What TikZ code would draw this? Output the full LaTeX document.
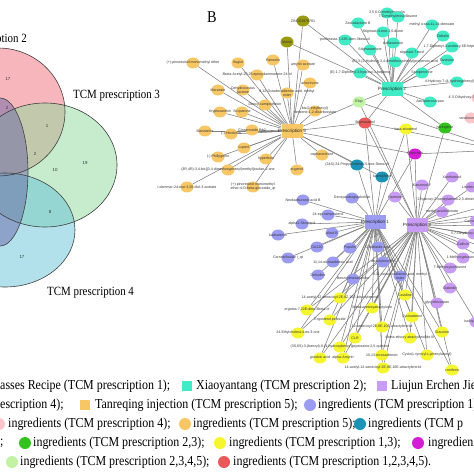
\documentclass[tikz,border=0pt]{standalone}
\usepackage{graphicx}
\usepackage{fontspec}
\setmainfont{Liberation Serif}
\setsansfont{Liberation Sans}
\usetikzlibrary{shapes.geometric,backgrounds}

\definecolor{cyanI}{HTML}{40EBC6}
\definecolor{oranI}{HTML}{F8C765}
\definecolor{blueI}{HTML}{9B9BF2}
\definecolor{lavI}{HTML}{C79CF2}
\definecolor{pinkI}{HTML}{FAC6CA}
\definecolor{tealI}{HTML}{1A93B5}
\definecolor{greenI}{HTML}{33C21E}
\definecolor{yellI}{HTML}{F6F62E}
\definecolor{magI}{HTML}{D41DD4}
\definecolor{lgreenI}{HTML}{C2F2A4}
\definecolor{redI}{HTML}{EA5A5A}
\definecolor{oliveI}{HTML}{9A9A10}
\definecolor{vpink}{HTML}{F06E78}
\definecolor{vgreen}{HTML}{8EDA9C}
\definecolor{vblue}{HTML}{66C2D8}
\definecolor{vviolet}{HTML}{6A68A8}

\newcommand{\squash}[1]{\scalebox{.87}[1]{#1}}

\tikzset{
  ing/.style={ellipse, minimum width=13bp, minimum height=11bp, inner sep=0pt, fill=#1},
  hub/.style={rectangle, minimum width=21bp, minimum height=14bp, inner sep=0pt, fill=#1},
  lbl/.style={font=\sffamily\fontsize{3.6}{4.1}\selectfont, inner sep=0pt, align=center, text=black!80},
  hlbl/.style={font=\sffamily\fontsize{4.6}{5}\selectfont, inner sep=0pt, text=black!85},
  link/.style={draw=black!50, line width=0.55bp},
  vline/.style={draw=black!75, line width=0.6bp},
  vnum/.style={font=\sffamily\fontsize{4.4}{5}\selectfont, inner sep=0pt, text=black!80},
  vset/.style={font=\fontsize{12.6}{14}\selectfont, inner sep=0pt},
  leg/.style={font=\fontsize{13.8}{15}\selectfont, inner sep=0pt, anchor=west},
  sqmark/.style={rectangle, minimum size=10bp, inner sep=0pt, fill=#1},
  dotmark/.style={circle, minimum size=12bp, inner sep=0pt, fill=#1}
}

\begin{document}
\begin{tikzpicture}[x=1bp,y=-1bp]
\useasboundingbox (0,0) rectangle (474,474);
\begin{pgfonlayer}{background}
\fill[white] (0,0) rectangle (474,474);
\end{pgfonlayer}

% Venn diagram (panel A, cut at the left)
\begin{scope}
\clip (0,0) rectangle (474,474);
\begin{scope}[fill opacity=.5]
\fill[vpink] (-2,112) ellipse [x radius=67, y radius=64];
\fill[vgreen] (45,165) ellipse [x radius=72, y radius=62];
\fill[vblue] (5,230) ellipse [x radius=70, y radius=57];
\fill[vviolet] (0,172) ellipse [x radius=28, y radius=74];
\end{scope}
\draw[vline] (-2,112) ellipse [x radius=67, y radius=64];
\draw[vline] (45,165) ellipse [x radius=72, y radius=62];
\draw[vline] (5,230) ellipse [x radius=70, y radius=57];
\draw[vline] (0,172) ellipse [x radius=28, y radius=74];
\end{scope}
\node[vset, anchor=east] (set2) at (27,40) {\squash{ption 2}};
\node[vset, anchor=west] (set3) at (73,96) {\squash{TCM prescription 3}};
\node[vset, anchor=west] (set4) at (47,293) {\squash{TCM prescription 4}};
\node[vnum] (n1) at (8,79) {17};
\node[vnum] (n2) at (7,108) {2};
\node[vnum] (n3) at (47,126) {1};
\node[vnum] (n4) at (35,154) {2};
\node[vnum] (n5) at (55,170) {10};
\node[vnum] (n6) at (85,163) {19};
\node[vnum] (n7) at (50,212) {8};
\node[vnum] (n8) at (22,257) {17};

\node[font=\fontsize{16.5}{18}\selectfont, inner sep=0pt] (panelB) at (212,17.5) {\squash{B}};

% hubs
\node[hub=blueI, label={[hlbl]center:Prescription 1}] (p1) at (375,222) {};
\node[hub=cyanI, label={[hlbl]center:Prescription 2}] (p2) at (392,89) {};
\node[hub=lavI, label={[hlbl]center:Prescription 3}] (p3) at (417,225) {};
\node[hub=pinkI] (p4) at (500,150) {};
\node[hub=oranI, label={[hlbl]center:Prescription 5}] (p5) at (292,131) {};

% ingredients of prescription 2
\node[ing=cyanI, label={[lbl]center:3,5,6-O-methylmosslin}] (c1) at (387,13) {};
\node[ing=cyanI, label={[lbl]center:7-O-methylmosloflavone}] (c2) at (398,17) {};
\node[ing=cyanI, label={[lbl]center:Zedoalactone B}] (c3) at (358,23) {};
\node[ing=cyanI, label={[lbl]center:Stigmast-4-ene-3,6-dione}] (c4) at (383,32) {};
\node[ing=cyanI, label={[lbl]center:methyl icosa-11,14-dienoate}] (c5) at (432,25) {};
\node[ing=cyanI, label={[lbl]center:poriferasta-7,22E-dien-3beta-ol}] (c6) at (345,40) {};
\node[ing=cyanI, label={[lbl]center:isoflavanone}] (c7) at (393,43) {};
\node[ing=cyanI, label={[lbl]center:Deltalin}] (c8) at (443,36) {};
\node[ing=cyanI, label={[lbl]center:1,7-Diphenyl-3-acetoxy-6E-heptene}] (c9) at (452,47) {};
\node[ing=cyanI, label={[lbl]center:Stigmasterone}] (c10) at (370,50) {};
\node[ing=cyanI, label={[lbl]center:stigmast-7-enol}] (c11) at (412,53) {};
\node[ing=cyanI, label={[lbl]center:Tanavine}] (c12) at (447,60) {};
\node[ing=cyanI, label={[lbl]center:(E)-1,7-Diphenyl-3-hydroxy-1-heptene}] (c13) at (360,73) {};
\node[ing=cyanI, label={[lbl]center:Sempervirine}] (c14) at (422,73) {};
\node[ing=cyanI, label={[lbl]center:4-Hydroxy-7-(4-hydroxyphenyl)-1-phenyl}] (c15) at (457,82) {};
\node[ing=cyanI, label={[lbl]center:Astrapterocarpan}] (c16) at (430,102) {};
\node[ing=cyanI, label={[lbl]center:(E)-3-(2-Hydroxy-3,4-dimethoxyphenyl)propenoic acid}] (c17) at (395,62) {};

% ingredients of prescription 5
\node[ing=oranI, label={[lbl]center:Sugiol}] (f1) at (238,63) {};
\node[ing=oranI, label={[lbl]center:Paneolin}] (f2) at (273,60) {};
\node[ing=oranI, label={[lbl]center:amyrin acetate}] (f3) at (303,65) {};
\node[ing=oranI, label={[lbl]center:3beta-Acetyl-20,25-epoxydammarane-24-ol}] (f4) at (257,75) {};
\node[ing=oranI, label={[lbl]center:arborinone}] (f5) at (310,83) {};
\node[ing=oranI, label={[lbl]center:Dehydrocostus\\lactone}] (f6) at (243,90) {};
\node[ing=oranI, label={[lbl]center:9,12-Octadecadienoic acid, methyl\\ester}] (f7) at (287,93) {};
\node[ing=oranI, label={[lbl]center:Deoxy-camptothecin}] (f8) at (265,105) {};
\node[ing=oranI, label={[lbl]center:Scoparone}] (f9) at (242,112) {};
\node[ing=oranI, label={[lbl]center:bis(2-ethylhexyl)\\benzene-1,2-dicarboxylate}] (f10) at (315,111) {};
\node[ing=oranI, label={[lbl]center:Ginsenoside Rh2}] (f11) at (252,130) {};
\node[ing=oranI, label={[lbl]center:(-)-Hinokinin}] (f12) at (231,134) {};
\node[ing=oranI, label={[lbl]center:Lupeol}] (f13) at (244,148) {};
\node[ing=oranI, label={[lbl]center:hyperforin}] (f14) at (266,159) {};
\node[ing=oranI, label={[lbl]center:cepharanthine}] (f15) at (322,155) {};
\node[ing=oranI, label={[lbl]center:(+)-pinoresinol monomethyl ether}] (f16) at (193,63) {};
\node[ing=oranI, label={[lbl]center:Meranzin}] (f17) at (218,90) {};
\node[ing=oranI, label={[lbl]center:Kryptoxanthin}] (f18) at (220,112) {};
\node[ing=oranI, label={[lbl]center:Mandarine}] (f19) at (205,131) {};
\node[ing=oranI, label={[lbl]center:(-)-Phillygenin}] (f20) at (218,157) {};
\node[ing=oranI, label={[lbl]center:(3R,4R)-3,4-bis[(3,4-dimethoxyphenyl)methyl]oxolan-2-one}] (f21) at (228,170) {};
\node[ing=oranI, label={[lbl]center:i-dammar-24-ene-3,20-diol-3-acetate}] (f22) at (187,187) {};
\node[ing=oranI, label={[lbl]center:(+)-pinoresinol monomethyl\\ether-4-O-beta-glucoside\_qt}] (f23) at (253,187) {};
\node[ing=oranI, label={[lbl]center:eugenol}] (f24) at (297,170) {};

% ingredients of prescription 1
\node[ing=blueI, label={[lbl]center:Deoxyandrographolide}] (b1) at (352,198) {};
\node[ing=blueI, label={[lbl]center:Neokadsuranic acid B}] (b2) at (303,200) {};
\node[ing=blueI, label={[lbl]center:24-epi-campesterol}] (b3) at (328,215) {};
\node[ing=blueI, label={[lbl]center:alpha1-Sitosterol}] (b4) at (302,224) {};
\node[ing=blueI, label={[lbl]center:kadsurenin}] (b5) at (278,235) {};
\node[ing=blueI, label={[lbl]center:alisol B}] (b6) at (332,233) {};
\node[ing=blueI, label={[lbl]center:GA120}] (b7) at (317,247) {};
\node[ing=blueI, label={[lbl]center:Populin}] (b8) at (350,248) {};
\node[ing=blueI, label={[lbl]center:Gadelaidic acid}] (b9) at (378,247) {};
\node[ing=blueI, label={[lbl]center:Carnosifloside I\_qt}] (b10) at (288,258) {};
\node[ing=blueI, label={[lbl]center:11,14-eicosadienoic acid}] (b11) at (333,262) {};
\node[ing=blueI, label={[lbl]center:atractylenolide}] (b12) at (383,262) {};
\node[ing=blueI, label={[lbl]center:Delsoline}] (b13) at (318,275) {};
\node[ing=blueI, label={[lbl]center:Benzoylmesaconine}] (b14) at (353,279) {};
\node[ing=blueI, label={[lbl]center:8,11-octadecadienoic acid, methyl\\ester}] (b15) at (400,276) {};

% ingredients of prescription 3
\node[ing=lavI, label={[lbl]center:Harmine}] (l1) at (395,197) {};
\node[ing=lavI, label={[lbl]center:Kanzonol F}] (l2) at (422,185) {};
\node[ing=lavI, label={[lbl]center:Xanthotoxol}] (l3) at (452,177) {};
\node[ing=lavI, label={[lbl]center:Linoleic acid}] (l4) at (472,187) {};
\node[ing=lavI, label={[lbl]center:2-hydroxy-2-benzylamino-2,3-dimethyl}] (l5) at (448,200) {};
\node[ing=lavI, label={[lbl]center:methyl arachidonate}] (l6) at (442,212) {};
\node[ing=lavI, label={[lbl]center:Corosolic acid}] (l7) at (476,221) {};
\node[ing=lavI, label={[lbl]center:5,7-Dihydroxy-2,4-dimethoxy}] (l8) at (474,234) {};
\node[ing=lavI, label={[lbl]center:Gallicin}] (l9) at (463,244) {};
\node[ing=lavI, label={[lbl]center:1-Methoxyphaseollin}] (l10) at (463,258) {};
\node[ing=lavI, label={[lbl]center:7-Methoxyisoflavone}] (l11) at (450,268) {};
\node[ing=lavI, label={[lbl]center:Glabridin}] (l12) at (450,288) {};
\node[ing=lavI, label={[lbl]center:glycyrrhizarpan}] (l13) at (437,303) {};
\node[ing=lavI, label={[lbl]center:Isoliquiritigenin}] (l14) at (476,322) {};
\node[ing=lavI] (lx1) at (492,204) {};
\node[ing=lavI] (lx2) at (494,213) {};
\node[ing=lavI] (lx3) at (492,226) {};
\node[ing=lavI] (lx4) at (495,238) {};
\node[ing=lavI] (lx5) at (493,250) {};
\node[ing=lavI] (lx6) at (496,264) {};

% ingredients of prescriptions 1,3
\node[ing=yellI, label={[lbl]center:beta-sitosterol}] (y0) at (406,129) {};
\node[ing=yellI, label={[lbl]center:14-acetyl-12-senecioyl-2E,8Z,10E-atractylentriol}] (y1) at (340,298) {};
\node[ing=yellI, label={[lbl]center:ergosta-7,22E-dien-3beta-ol}] (y2) at (307,310) {};
\node[ing=yellI, label={[lbl]center:3beta-acetoxyatractylone}] (y3) at (372,308) {};
\node[ing=yellI, label={[lbl]center:Cavidine}] (y4) at (405,295) {};
\node[ing=yellI, label={[lbl]center:Cycloartenol}] (y5) at (412,317) {};
\node[ing=yellI, label={[lbl]center:Ergosterol peroxide}] (y6) at (330,320) {};
\node[ing=yellI, label={[lbl]center:24-Ethylcholest-4-en-3-one}] (y7) at (298,333) {};
\node[ing=yellI, label={[lbl]center:12-senecioyl-2E,8E,10E-atractylentriol}] (y8) at (382,327) {};
\node[ing=yellI, label={[lbl]center:Glaucine}] (y9) at (442,332) {};
\node[ing=yellI, label={[lbl]center:CLR}] (y10) at (355,338) {};
\node[ing=yellI, label={[lbl]center:8beta-ethoxy atractylenolide III}] (y11) at (410,338) {};
\node[ing=yellI, label={[lbl]center:(3S,6S)-3-(benzyl)-6-(4-hydroxybenzyl)piperazine-2,5-quinone}] (y12) at (340,347) {};
\node[ing=yellI, label={[lbl]center:10,13-eicosadienoic}] (y13) at (382,355) {};
\node[ing=yellI, label={[lbl]center:Cyclo(L-tyrosyl-L-phenylalanyl)}] (y14) at (427,355) {};
\node[ing=yellI, label={[lbl]center:gondoic acid}] (y15) at (320,358) {};
\node[ing=yellI, label={[lbl]center:alpha-Amyrin}] (y16) at (343,358) {};
\node[ing=yellI, label={[lbl]center:14-acetyl-12-senecioyl-2E,8E,10E-atractylentriol}] (y17) at (383,368) {};
\node[ing=yellI, label={[lbl]center:coniferin}] (y18) at (452,370) {};

% shared ingredients
\node[ing=oliveI, label={[lbl]center:ZINC03978781}] (o1) at (303,21) {};
\node[ing=oliveI, label={[lbl]center:Mairin}] (o2) at (287,42) {};
\node[ing=lgreenI, label={[lbl]center:Elop}] (g1) at (359,102) {};
\node[ing=redI, label={[lbl]center:Stigmasterol}] (r1) at (365,123) {};
\node[ing=greenI, label={[lbl]center:naringenin}] (gr1) at (445,128) {};
\node[ing=magI, label={[lbl]center:Quercetin}] (m1) at (415,154) {};
\node[ing=tealI, label={[lbl]center:(24S)-24-Propylcholesta-5-ene-3beta-ol}] (t1) at (357,165) {};
\node[ing=tealI, label={[lbl]center:kaempferol}] (t2) at (382,177) {};
\node[ing=pinkI, label={[lbl]center:tanshinone IIA}] (k1) at (471,118) {};
\node[ing=pinkI, label={[lbl]center:4',5-Dihydroxy-3',7-dimethoxyflavone}] (k2) at (478,98) {};

% links
\begin{pgfonlayer}{background}
\path[link] (p2) edge (c1) edge (c2) edge (c3) edge (c4) edge (c5) edge (c6) edge (c7) edge (c8) edge (c9)
  edge (c10) edge (c11) edge (c12) edge (c13) edge (c14) edge (c15) edge (c16) edge (c17)
  edge (o1) edge (o2) edge (g1) edge (r1) edge (gr1);
\path[link] (p5) edge (f1) edge (f2) edge (f3) edge (f4) edge (f5) edge (f6) edge (f7) edge (f8) edge (f9)
  edge (f10) edge (f11) edge (f12) edge (f13) edge (f14) edge (f15) edge (f16) edge (f17) edge (f18)
  edge (f19) edge (f20) edge (f21) edge (f22) edge (f23) edge (f24)
  edge (o1) edge (o2) edge (g1) edge (r1) edge (m1) edge (t1) edge (t2);
\path[link] (p1) edge (b1) edge (b2) edge (b3) edge (b4) edge (b5) edge (b6) edge (b7) edge (b8)
  edge (b9) edge (b10) edge (b11) edge (b12) edge (b13) edge (b14) edge (b15)
  edge (y0) edge (y1) edge (y2) edge (y3) edge (y4) edge (y5) edge (y6) edge (y7) edge (y8) edge (y9)
  edge (y10) edge (y11) edge (y12) edge (y13) edge (y14) edge (y15) edge (y16) edge (y17) edge (y18)
  edge (r1) edge (m1) edge (t1) edge (t2);
\path[link] (p3) edge (l1) edge (l2) edge (l3) edge (l4) edge (l5) edge (l6) edge (l7) edge (l8)
  edge (l9) edge (l10) edge (l11) edge (l12) edge (l13) edge (l14)
  edge (lx1) edge (lx2) edge (lx3) edge (lx4) edge (lx5) edge (lx6)
  edge (y0) edge (y1) edge (y2) edge (y3) edge (y4) edge (y5) edge (y6) edge (y7) edge (y8) edge (y9)
  edge (y10) edge (y11) edge (y12) edge (y13) edge (y14) edge (y15) edge (y16) edge (y17) edge (y18)
  edge (r1) edge (g1) edge (gr1) edge (m1);
\path[link] (p4) edge (k1) edge (k2) edge (g1) edge (r1) edge (m1);
\end{pgfonlayer}

% legend
\node[leg] (leg1) at (0,386) {\squash{asses Recipe (TCM prescription 1);}};
\node[sqmark=cyanI] (mk2) at (187,386) {};
\node[leg] (leg2) at (196,386) {\squash{Xiaoyantang (TCM prescription 2);}};
\node[sqmark=lavI] (mk3) at (382,386) {};
\node[leg] (leg3) at (391,386) {\squash{Liujun Erchen Jie}};

\node[leg] (leg4) at (0,405) {\squash{escription 4);}};
\node[sqmark=oranI] (mk5) at (85,405) {};
\node[leg] (leg5) at (95,405) {\squash{Tanreqing injection (TCM prescription 5);}};
\node[dotmark=blueI] (mk6) at (310,405) {};
\node[leg] (leg6) at (318,405) {\squash{ingredients (TCM prescription 1);}};

\node[dotmark=pinkI] (mk7) at (-1,424) {};
\node[leg] (leg7) at (8,424) {\squash{ingredients (TCM prescription 4);}};
\node[dotmark=oranI] (mk8) at (185,424) {};
\node[leg] (leg8) at (193,424) {\squash{ingredients (TCM prescription 5);}};
\node[dotmark=tealI] (mk9) at (360,424) {};
\node[leg] (leg9) at (368,424) {\squash{ingredients (TCM p}};

\node[leg] (leg10) at (0,443) {\squash{;}};
\node[dotmark=greenI] (mk11) at (25,443) {};
\node[leg] (leg11) at (33,443) {\squash{ingredients (TCM prescription 2,3);}};
\node[dotmark=yellI] (mk12) at (220,443) {};
\node[leg] (leg12) at (229,443) {\squash{ingredients (TCM prescription 1,3);}};
\node[dotmark=magI] (mk13) at (418,443) {};
\node[leg] (leg13) at (428,443) {\squash{ingredien}};

\node[dotmark=lgreenI] (mk14) at (12,462) {};
\node[leg] (leg14) at (20,462) {\squash{ingredients (TCM prescription 2,3,4,5);}};
\node[dotmark=redI] (mk15) at (224,462) {};
\node[leg] (leg15) at (233,462) {\squash{ingredients (TCM prescription 1,2,3,4,5).}};
\end{tikzpicture}
\end{document}
